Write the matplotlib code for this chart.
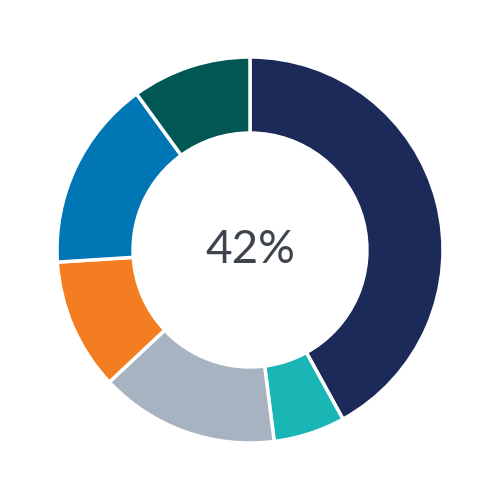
import matplotlib.pyplot as plt

# slice shares, clockwise from 12 o'clock
labels = ["Navy", "Teal", "Gray", "Orange", "Blue", "Green"]
values = [42, 6, 15, 11, 16, 10]
colors = ["#1c2a5a", "#1ab5b5", "#a8b3c1", "#f37d20", "#0076b5", "#005753"]
center_text = "42%"

fig = plt.figure(figsize=(5, 5), dpi=100)
ax = fig.add_axes([0, 0, 1, 1])

ax.pie(values, colors=colors, startangle=90, counterclock=False,
       radius=1.0,
       wedgeprops=dict(width=0.394, edgecolor="white", linewidth=2.5))

ax.text(0, 0, center_text, ha="center", va="center", fontsize=33,
        color="#3e444b", family=["Lato", "DejaVu Sans"], fontweight="normal")

lim = 250 / 193
ax.set_xlim(-lim, lim)
ax.set_ylim(-lim, lim)
ax.set_aspect("equal")
ax.axis("off")

fig.savefig("out.png", dpi=100, facecolor="white")
